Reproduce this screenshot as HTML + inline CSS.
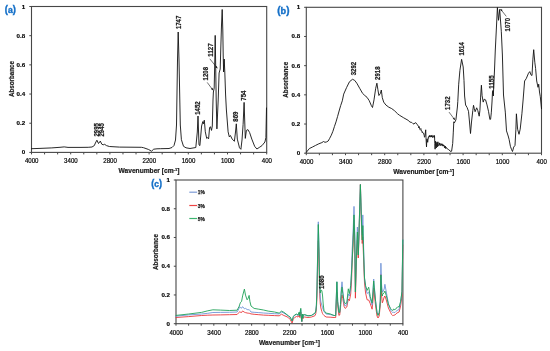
<!DOCTYPE html>
<html><head><meta charset="utf-8"><title>FTIR spectra</title>
<style>
html,body{margin:0;padding:0;background:#fff;}
body{width:550px;height:351px;overflow:hidden;}
svg{display:block;font-family:"Liberation Sans", "DejaVu Sans", sans-serif;}
</style></head><body>
<svg width="550" height="351" viewBox="0 0 550 351">
<rect width="550" height="351" fill="#fff"/>
<rect x="31.5" y="6.5" width="235.2" height="145.9" fill="none" stroke="#474747" stroke-width="1.1"/>
<line x1="29.3" y1="152.4" x2="31.5" y2="152.4" stroke="#474747" stroke-width="1"/>
<text x="25.2" y="154.4" font-size="6.2" text-anchor="end" font-weight="bold" fill="#000" stroke="#000" stroke-width="0.15">0</text>
<line x1="29.3" y1="123.22" x2="31.5" y2="123.22" stroke="#474747" stroke-width="1"/>
<text x="25.2" y="125.22" font-size="6.2" text-anchor="end" font-weight="bold" fill="#000" stroke="#000" stroke-width="0.15">0.2</text>
<line x1="29.3" y1="94.04" x2="31.5" y2="94.04" stroke="#474747" stroke-width="1"/>
<text x="25.2" y="96.04" font-size="6.2" text-anchor="end" font-weight="bold" fill="#000" stroke="#000" stroke-width="0.15">0.4</text>
<line x1="29.3" y1="64.86" x2="31.5" y2="64.86" stroke="#474747" stroke-width="1"/>
<text x="25.2" y="66.86" font-size="6.2" text-anchor="end" font-weight="bold" fill="#000" stroke="#000" stroke-width="0.15">0.6</text>
<line x1="29.3" y1="35.68" x2="31.5" y2="35.68" stroke="#474747" stroke-width="1"/>
<text x="25.2" y="37.68" font-size="6.2" text-anchor="end" font-weight="bold" fill="#000" stroke="#000" stroke-width="0.15">0.8</text>
<line x1="29.3" y1="6.5" x2="31.5" y2="6.5" stroke="#474747" stroke-width="1"/>
<text x="25.2" y="8.5" font-size="6.2" text-anchor="end" font-weight="bold" fill="#000" stroke="#000" stroke-width="0.15">1</text>
<line x1="31.5" y1="152.4" x2="31.5" y2="154.4" stroke="#474747" stroke-width="1"/>
<text x="31.7" y="163.2" font-size="6.4" text-anchor="middle" font-weight="normal" fill="#000" textLength="13.6" lengthAdjust="spacingAndGlyphs" stroke="#000" stroke-width="0.18">4000</text>
<line x1="44.57" y1="152.4" x2="44.57" y2="154.4" stroke="#474747" stroke-width="1"/>
<line x1="57.63" y1="152.4" x2="57.63" y2="154.4" stroke="#474747" stroke-width="1"/>
<line x1="70.7" y1="152.4" x2="70.7" y2="154.4" stroke="#474747" stroke-width="1"/>
<text x="70.9" y="163.2" font-size="6.4" text-anchor="middle" font-weight="normal" fill="#000" textLength="13.6" lengthAdjust="spacingAndGlyphs" stroke="#000" stroke-width="0.18">3400</text>
<line x1="83.77" y1="152.4" x2="83.77" y2="154.4" stroke="#474747" stroke-width="1"/>
<line x1="96.83" y1="152.4" x2="96.83" y2="154.4" stroke="#474747" stroke-width="1"/>
<line x1="109.9" y1="152.4" x2="109.9" y2="154.4" stroke="#474747" stroke-width="1"/>
<text x="110.1" y="163.2" font-size="6.4" text-anchor="middle" font-weight="normal" fill="#000" textLength="13.6" lengthAdjust="spacingAndGlyphs" stroke="#000" stroke-width="0.18">2800</text>
<line x1="122.97" y1="152.4" x2="122.97" y2="154.4" stroke="#474747" stroke-width="1"/>
<line x1="136.03" y1="152.4" x2="136.03" y2="154.4" stroke="#474747" stroke-width="1"/>
<line x1="149.1" y1="152.4" x2="149.1" y2="154.4" stroke="#474747" stroke-width="1"/>
<text x="149.3" y="163.2" font-size="6.4" text-anchor="middle" font-weight="normal" fill="#000" textLength="13.6" lengthAdjust="spacingAndGlyphs" stroke="#000" stroke-width="0.18">2200</text>
<line x1="162.17" y1="152.4" x2="162.17" y2="154.4" stroke="#474747" stroke-width="1"/>
<line x1="175.23" y1="152.4" x2="175.23" y2="154.4" stroke="#474747" stroke-width="1"/>
<line x1="188.3" y1="152.4" x2="188.3" y2="154.4" stroke="#474747" stroke-width="1"/>
<text x="188.5" y="163.2" font-size="6.4" text-anchor="middle" font-weight="normal" fill="#000" textLength="13.6" lengthAdjust="spacingAndGlyphs" stroke="#000" stroke-width="0.18">1600</text>
<line x1="201.37" y1="152.4" x2="201.37" y2="154.4" stroke="#474747" stroke-width="1"/>
<line x1="214.43" y1="152.4" x2="214.43" y2="154.4" stroke="#474747" stroke-width="1"/>
<line x1="227.5" y1="152.4" x2="227.5" y2="154.4" stroke="#474747" stroke-width="1"/>
<text x="227.7" y="163.2" font-size="6.4" text-anchor="middle" font-weight="normal" fill="#000" textLength="13.6" lengthAdjust="spacingAndGlyphs" stroke="#000" stroke-width="0.18">1000</text>
<line x1="240.57" y1="152.4" x2="240.57" y2="154.4" stroke="#474747" stroke-width="1"/>
<line x1="253.63" y1="152.4" x2="253.63" y2="154.4" stroke="#474747" stroke-width="1"/>
<line x1="266.7" y1="152.4" x2="266.7" y2="154.4" stroke="#474747" stroke-width="1"/>
<text x="266.9" y="163.2" font-size="6.4" text-anchor="middle" font-weight="normal" fill="#000" textLength="10.2" lengthAdjust="spacingAndGlyphs" stroke="#000" stroke-width="0.18">400</text>
<text x="149" y="173.2" font-size="7" text-anchor="middle" font-weight="bold" fill="#1a1a1a" stroke="#1a1a1a" stroke-width="0.2" textLength="61" lengthAdjust="spacingAndGlyphs">Wavenumber [cm<tspan dy="-2.3" font-size="4.4">-1</tspan><tspan dy="2.3">]</tspan></text>
<text transform="translate(11.3 79) rotate(-90)" x="0" y="0" font-size="6.6" text-anchor="middle" font-weight="bold" fill="#1a1a1a" textLength="36" lengthAdjust="spacingAndGlyphs" dy="2.3" stroke="#1a1a1a" stroke-width="0.2">Absorbance</text>
<text x="4.8" y="13.2" font-size="10.4" font-weight="bold" fill="#1570c8" stroke="#1570c8" stroke-width="0.4" textLength="11.1" lengthAdjust="spacingAndGlyphs">(<tspan font-size="9.6">a</tspan>)</text>
<polyline points="31.5,148.7 40,148.4 51.8,147.9 60,147.3 64.2,146.9 68,147.4 80,147.4 88.2,147.3 92,147 94.3,145.6 95.4,143 96.9,140.2 98.5,143.5 100.3,141.1 101.8,144.2 103.2,144.8 104.6,144.3 106.5,145.6 109.4,146.5 119.5,147.1 130,147.2 141.4,147.3 143.5,147.7 148.6,149.5 151.5,151.2 153.7,149.2 157,148.8 160.3,148.7 169,148.5 172,147.5 174,145.5 175.5,140 176.5,125 177.5,60 178.2,32 179,60 180.3,125 181.4,139.7 183.5,146.3 186,147.8 190,148.5 195.8,147.5 197.3,132 198,116 199,144.9 199.9,145.6 201.6,126 202.8,121.6 203.4,123.8 204.3,120.2 205.3,131.8 206.7,138.4 207.7,137.6 208.6,138.8 209.6,127.5 210.4,126.7 211.5,130.4 212.3,126 213,100 213.4,92 214.2,88 214.8,60 215.2,35.4 215.6,60 216.2,100 216.9,128.9 218.2,100 219.1,73 220.2,69 220.9,45 221.5,25 222.2,9.5 222.8,30 223.2,55 223.6,72 224.2,59 224.8,72 225.6,95 226.4,110 228.1,131.8 229.3,136.9 230.4,135.5 232.2,139.1 234.4,141.3 235.5,132 236.3,123.8 237.3,139.1 239.5,147.8 240.9,149.3 242,140 243.1,124.5 244.1,102.4 245.3,138.4 246.4,130.4 247.9,129.6 249.6,132.5 251.8,139.1 254.7,146.4 256.9,149 259.8,147.1 262,145.6 264.9,142 265.9,137.6 266.5,108" fill="none" stroke="#111" stroke-width="0.9" stroke-linejoin="round" stroke-linecap="round"/>
<text transform="translate(96.5 129.8) rotate(-90)" x="0" y="0" font-size="6.7" text-anchor="middle" font-weight="bold" fill="#1a1a1a" textLength="13.4" lengthAdjust="spacingAndGlyphs" dy="2.4" stroke="#1a1a1a" stroke-width="0.22">2995</text>
<text transform="translate(101.4 129.8) rotate(-90)" x="0" y="0" font-size="6.7" text-anchor="middle" font-weight="bold" fill="#1a1a1a" textLength="13.4" lengthAdjust="spacingAndGlyphs" dy="2.4" stroke="#1a1a1a" stroke-width="0.22">2945</text>
<text transform="translate(178.8 22.4) rotate(-90)" x="0" y="0" font-size="6.7" text-anchor="middle" font-weight="bold" fill="#1a1a1a" textLength="13.4" lengthAdjust="spacingAndGlyphs" dy="2.4" stroke="#1a1a1a" stroke-width="0.22">1747</text>
<text transform="translate(211 50) rotate(-90)" x="0" y="0" font-size="6.7" text-anchor="middle" font-weight="bold" fill="#1a1a1a" textLength="13.4" lengthAdjust="spacingAndGlyphs" dy="2.4" stroke="#1a1a1a" stroke-width="0.22">1127</text>
<text transform="translate(205.9 73.7) rotate(-90)" x="0" y="0" font-size="6.7" text-anchor="middle" font-weight="bold" fill="#1a1a1a" textLength="13.4" lengthAdjust="spacingAndGlyphs" dy="2.4" stroke="#1a1a1a" stroke-width="0.22">1208</text>
<text transform="translate(197.9 108.1) rotate(-90)" x="0" y="0" font-size="6.7" text-anchor="middle" font-weight="bold" fill="#1a1a1a" textLength="13.4" lengthAdjust="spacingAndGlyphs" dy="2.4" stroke="#1a1a1a" stroke-width="0.22">1452</text>
<text transform="translate(235.8 116.6) rotate(-90)" x="0" y="0" font-size="6.7" text-anchor="middle" font-weight="bold" fill="#1a1a1a" textLength="10.2" lengthAdjust="spacingAndGlyphs" dy="2.4" stroke="#1a1a1a" stroke-width="0.22">869</text>
<text transform="translate(244 95.6) rotate(-90)" x="0" y="0" font-size="6.7" text-anchor="middle" font-weight="bold" fill="#1a1a1a" textLength="10.2" lengthAdjust="spacingAndGlyphs" dy="2.4" stroke="#1a1a1a" stroke-width="0.22">754</text>
<line x1="209.8" y1="58.8" x2="217.4" y2="68.3" stroke="#111" stroke-width="0.6"/>
<polygon points="217.4,68.3 215.24,67.21 216.81,65.96" fill="#111"/>
<line x1="207.2" y1="82.4" x2="213" y2="90.2" stroke="#111" stroke-width="0.6"/>
<polygon points="213,90.2 210.88,89.03 212.49,87.84" fill="#111"/>
<rect x="306.3" y="7.3" width="235.2" height="145.9" fill="none" stroke="#474747" stroke-width="1.1"/>
<line x1="304.1" y1="153.2" x2="306.3" y2="153.2" stroke="#474747" stroke-width="1"/>
<text x="300.2" y="155.2" font-size="6.2" text-anchor="end" font-weight="bold" fill="#000" stroke="#000" stroke-width="0.15">0</text>
<line x1="304.1" y1="124.02" x2="306.3" y2="124.02" stroke="#474747" stroke-width="1"/>
<text x="300.2" y="126.02" font-size="6.2" text-anchor="end" font-weight="bold" fill="#000" stroke="#000" stroke-width="0.15">0.2</text>
<line x1="304.1" y1="94.84" x2="306.3" y2="94.84" stroke="#474747" stroke-width="1"/>
<text x="300.2" y="96.84" font-size="6.2" text-anchor="end" font-weight="bold" fill="#000" stroke="#000" stroke-width="0.15">0.4</text>
<line x1="304.1" y1="65.66" x2="306.3" y2="65.66" stroke="#474747" stroke-width="1"/>
<text x="300.2" y="67.66" font-size="6.2" text-anchor="end" font-weight="bold" fill="#000" stroke="#000" stroke-width="0.15">0.6</text>
<line x1="304.1" y1="36.48" x2="306.3" y2="36.48" stroke="#474747" stroke-width="1"/>
<text x="300.2" y="38.48" font-size="6.2" text-anchor="end" font-weight="bold" fill="#000" stroke="#000" stroke-width="0.15">0.8</text>
<line x1="304.1" y1="7.3" x2="306.3" y2="7.3" stroke="#474747" stroke-width="1"/>
<text x="300.2" y="9.3" font-size="6.2" text-anchor="end" font-weight="bold" fill="#000" stroke="#000" stroke-width="0.15">1</text>
<line x1="306.3" y1="153.2" x2="306.3" y2="155.2" stroke="#474747" stroke-width="1"/>
<text x="306.5" y="163.6" font-size="6.4" text-anchor="middle" font-weight="normal" fill="#000" textLength="13.6" lengthAdjust="spacingAndGlyphs" stroke="#000" stroke-width="0.18">4000</text>
<line x1="319.37" y1="153.2" x2="319.37" y2="155.2" stroke="#474747" stroke-width="1"/>
<line x1="332.43" y1="153.2" x2="332.43" y2="155.2" stroke="#474747" stroke-width="1"/>
<line x1="345.5" y1="153.2" x2="345.5" y2="155.2" stroke="#474747" stroke-width="1"/>
<text x="345.7" y="163.6" font-size="6.4" text-anchor="middle" font-weight="normal" fill="#000" textLength="13.6" lengthAdjust="spacingAndGlyphs" stroke="#000" stroke-width="0.18">3400</text>
<line x1="358.57" y1="153.2" x2="358.57" y2="155.2" stroke="#474747" stroke-width="1"/>
<line x1="371.63" y1="153.2" x2="371.63" y2="155.2" stroke="#474747" stroke-width="1"/>
<line x1="384.7" y1="153.2" x2="384.7" y2="155.2" stroke="#474747" stroke-width="1"/>
<text x="384.9" y="163.6" font-size="6.4" text-anchor="middle" font-weight="normal" fill="#000" textLength="13.6" lengthAdjust="spacingAndGlyphs" stroke="#000" stroke-width="0.18">2800</text>
<line x1="397.77" y1="153.2" x2="397.77" y2="155.2" stroke="#474747" stroke-width="1"/>
<line x1="410.83" y1="153.2" x2="410.83" y2="155.2" stroke="#474747" stroke-width="1"/>
<line x1="423.9" y1="153.2" x2="423.9" y2="155.2" stroke="#474747" stroke-width="1"/>
<text x="424.1" y="163.6" font-size="6.4" text-anchor="middle" font-weight="normal" fill="#000" textLength="13.6" lengthAdjust="spacingAndGlyphs" stroke="#000" stroke-width="0.18">2200</text>
<line x1="436.97" y1="153.2" x2="436.97" y2="155.2" stroke="#474747" stroke-width="1"/>
<line x1="450.03" y1="153.2" x2="450.03" y2="155.2" stroke="#474747" stroke-width="1"/>
<line x1="463.1" y1="153.2" x2="463.1" y2="155.2" stroke="#474747" stroke-width="1"/>
<text x="463.3" y="163.6" font-size="6.4" text-anchor="middle" font-weight="normal" fill="#000" textLength="13.6" lengthAdjust="spacingAndGlyphs" stroke="#000" stroke-width="0.18">1600</text>
<line x1="476.17" y1="153.2" x2="476.17" y2="155.2" stroke="#474747" stroke-width="1"/>
<line x1="489.23" y1="153.2" x2="489.23" y2="155.2" stroke="#474747" stroke-width="1"/>
<line x1="502.3" y1="153.2" x2="502.3" y2="155.2" stroke="#474747" stroke-width="1"/>
<text x="502.5" y="163.6" font-size="6.4" text-anchor="middle" font-weight="normal" fill="#000" textLength="13.6" lengthAdjust="spacingAndGlyphs" stroke="#000" stroke-width="0.18">1000</text>
<line x1="515.37" y1="153.2" x2="515.37" y2="155.2" stroke="#474747" stroke-width="1"/>
<line x1="528.43" y1="153.2" x2="528.43" y2="155.2" stroke="#474747" stroke-width="1"/>
<line x1="541.5" y1="153.2" x2="541.5" y2="155.2" stroke="#474747" stroke-width="1"/>
<text x="541.7" y="163.6" font-size="6.4" text-anchor="middle" font-weight="normal" fill="#000" textLength="10.2" lengthAdjust="spacingAndGlyphs" stroke="#000" stroke-width="0.18">400</text>
<text x="423.8" y="173.8" font-size="7" text-anchor="middle" font-weight="bold" fill="#1a1a1a" stroke="#1a1a1a" stroke-width="0.2" textLength="61" lengthAdjust="spacingAndGlyphs">Wavenumber [cm<tspan dy="-2.3" font-size="4.4">-1</tspan><tspan dy="2.3">]</tspan></text>
<text transform="translate(286.1 79.8) rotate(-90)" x="0" y="0" font-size="6.6" text-anchor="middle" font-weight="bold" fill="#1a1a1a" textLength="36" lengthAdjust="spacingAndGlyphs" dy="2.3" stroke="#1a1a1a" stroke-width="0.2">Absorbance</text>
<text x="277.3" y="14.2" font-size="10.4" font-weight="bold" fill="#1570c8" stroke="#1570c8" stroke-width="0.4" textLength="12.2" lengthAdjust="spacingAndGlyphs">(<tspan font-size="9.6">b</tspan>)</text>
<polyline points="306.4,152.2 309.4,148.5 312.5,147 315.6,145.4 318.8,143.8 321.9,142.6 323.5,141.5 325,142.3 326.6,141.9 328.2,141 329.7,138.3 331.3,135.2 332.9,131.3 334.4,126.6 336,121.9 337.6,116.4 339.1,111 340.7,105.5 342.3,100.8 343.7,94.1 346.6,87.5 349.5,81.7 352.5,79.3 354.6,80.3 356.8,83.2 359.7,88.3 362.6,93.4 364.8,95.5 367,97.3 369.2,100.6 371.4,105.7 372.5,107.5 374,99.9 375.7,88.3 376.9,83.2 377.9,89.7 378.9,95.5 380.4,93.4 381.3,90 382.3,97.7 383.7,102.1 385.9,105 388.8,107.2 391.7,108.6 394.6,110.8 397.5,113.7 399.4,115.2 403.7,117.8 408.1,120.3 410,122.1 411.7,122.4 412.8,123.5 414,124.1 415.1,122.7 416.3,123.2 417.4,124.7 418.5,126.4 418.83,127.96 419.17,126.54 419.5,127.5 419.9,129.55 420.3,129.2 420.9,128.6 421.2,130.9 421.5,130.8 422,131 422.3,133 422.6,132.6 423.1,133.2 423.6,133.1 424.2,135.5 424.5,137.25 424.8,136.6 425.3,133 425.7,129.8 426,137.8 426.5,146.9 426.8,140 427.1,138.9 427.7,142.3 428.2,137.8 428.5,138.2 428.8,136.2 429.4,135.5 429.7,137.06 430,135.64 430.3,136.6 430.7,137.15 431.1,135.3 431.47,136.93 431.83,135.57 432.2,136.6 432.57,137.5 432.93,135.4 433.3,135.7 433.9,137.2 434.2,137.55 434.5,135.5 434.8,143.55 435.1,149.2 435.6,141.2 436.2,148 436.5,146.35 436.8,142.3 437.3,146.9 437.9,141.8 438.2,145 438.5,145.8 438.95,145.55 439.4,142.9 439.8,145.25 440.2,145.2 440.5,145.55 440.8,143.5 441.3,144 441.7,145.4 442.1,143.8 442.5,144.6 442.84,146.14 443.18,144.68 443.52,145.9 443.86,145 444.2,146.3 444.51,147.74 444.83,146.19 445.14,147.3 445.46,146.31 445.77,148.62 446.09,147.37 446.4,148 448.7,149.7 451,151.7 451.6,151.2 452.7,143.5 453.3,132.1 453.8,121.8 454.4,122.9 455.9,119.9 457.4,107 457.8,101.4 458.7,84.2 459.9,70.5 461.6,59.3 463.2,67 464,80.5 464.6,96 465.6,105 467.1,107.5 468.5,111.3 469.5,122 470.5,133.5 471.5,122 472.8,110.6 473.5,105.3 474.3,108.5 475.1,111.7 476.7,107.8 477.8,110.6 479.2,116.2 479.9,110.6 480.6,97.1 481.4,85.2 482.1,95.7 483.2,102.1 484.2,99.2 485.6,99.9 487,104.9 488.5,111.3 489.9,119.5 490.6,119.2 491.3,112.8 492,102 492.5,92 492.9,90.5 493.3,96 493.8,85 494.5,70 495.3,50 496.3,30 497.4,7.5 498.5,20.3 499.7,9.4 501.3,31.3 502.4,55 503.5,95 505.3,112.1 506.5,130.9 508.2,136 509.1,139.4 510.4,146.3 511.6,149.7 512.5,151.5 513.7,147.1 515,145.4 515.9,129.2 516.4,113.8 517.6,129.2 519,134.3 520.2,129.2 521.9,113.8 523.1,100 524.6,81 526.2,78.7 528.5,73.2 529.8,71.6 530.9,74.8 532,75.5 532.9,59.1 533.7,49.7 534.8,62.2 535.6,68.5 536.7,81 538,87.3 538.7,84.2 539.5,92 540.3,96.7 541.5,108.7" fill="none" stroke="#111" stroke-width="0.9" stroke-linejoin="round" stroke-linecap="round"/>
<text transform="translate(353.7 68.6) rotate(-90)" x="0" y="0" font-size="6.7" text-anchor="middle" font-weight="bold" fill="#1a1a1a" textLength="13.4" lengthAdjust="spacingAndGlyphs" dy="2.4" stroke="#1a1a1a" stroke-width="0.22">3292</text>
<text transform="translate(377.4 73.2) rotate(-90)" x="0" y="0" font-size="6.7" text-anchor="middle" font-weight="bold" fill="#1a1a1a" textLength="13.4" lengthAdjust="spacingAndGlyphs" dy="2.4" stroke="#1a1a1a" stroke-width="0.22">2918</text>
<text transform="translate(447.8 103.2) rotate(-90)" x="0" y="0" font-size="6.7" text-anchor="middle" font-weight="bold" fill="#1a1a1a" textLength="13.4" lengthAdjust="spacingAndGlyphs" dy="2.4" stroke="#1a1a1a" stroke-width="0.22">1732</text>
<text transform="translate(461.8 48.9) rotate(-90)" x="0" y="0" font-size="6.7" text-anchor="middle" font-weight="bold" fill="#1a1a1a" textLength="13.4" lengthAdjust="spacingAndGlyphs" dy="2.4" stroke="#1a1a1a" stroke-width="0.22">1614</text>
<text transform="translate(491.6 82) rotate(-90)" x="0" y="0" font-size="6.7" text-anchor="middle" font-weight="bold" fill="#1a1a1a" textLength="13.4" lengthAdjust="spacingAndGlyphs" dy="2.4" stroke="#1a1a1a" stroke-width="0.22">1155</text>
<text transform="translate(508 24.7) rotate(-90)" x="0" y="0" font-size="6.7" text-anchor="middle" font-weight="bold" fill="#1a1a1a" textLength="13.4" lengthAdjust="spacingAndGlyphs" dy="2.4" stroke="#1a1a1a" stroke-width="0.22">1070</text>
<line x1="449" y1="112.1" x2="454.9" y2="119.9" stroke="#111" stroke-width="0.6"/>
<polygon points="454.9,119.9 452.78,118.75 454.37,117.54" fill="#111"/>
<line x1="506.3" y1="16.4" x2="500.5" y2="9" stroke="#111" stroke-width="0.6"/>
<polygon points="500.5,9 502.64,10.11 501.07,11.35" fill="#111"/>
<rect x="176" y="180" width="226.9" height="143.7" fill="none" stroke="#474747" stroke-width="1.1"/>
<line x1="173.8" y1="323.7" x2="176" y2="323.7" stroke="#474747" stroke-width="1"/>
<text x="170" y="325.7" font-size="6.2" text-anchor="end" font-weight="bold" fill="#000" stroke="#000" stroke-width="0.15">0</text>
<line x1="173.8" y1="294.96" x2="176" y2="294.96" stroke="#474747" stroke-width="1"/>
<text x="170" y="296.96" font-size="6.2" text-anchor="end" font-weight="bold" fill="#000" stroke="#000" stroke-width="0.15">0.2</text>
<line x1="173.8" y1="266.22" x2="176" y2="266.22" stroke="#474747" stroke-width="1"/>
<text x="170" y="268.22" font-size="6.2" text-anchor="end" font-weight="bold" fill="#000" stroke="#000" stroke-width="0.15">0.4</text>
<line x1="173.8" y1="237.48" x2="176" y2="237.48" stroke="#474747" stroke-width="1"/>
<text x="170" y="239.48" font-size="6.2" text-anchor="end" font-weight="bold" fill="#000" stroke="#000" stroke-width="0.15">0.6</text>
<line x1="173.8" y1="208.74" x2="176" y2="208.74" stroke="#474747" stroke-width="1"/>
<text x="170" y="210.74" font-size="6.2" text-anchor="end" font-weight="bold" fill="#000" stroke="#000" stroke-width="0.15">0.8</text>
<line x1="173.8" y1="180" x2="176" y2="180" stroke="#474747" stroke-width="1"/>
<text x="170" y="182" font-size="6.2" text-anchor="end" font-weight="bold" fill="#000" stroke="#000" stroke-width="0.15">1</text>
<line x1="176" y1="323.7" x2="176" y2="325.7" stroke="#474747" stroke-width="1"/>
<text x="176.2" y="334.6" font-size="6.4" text-anchor="middle" font-weight="normal" fill="#000" textLength="13.6" lengthAdjust="spacingAndGlyphs" stroke="#000" stroke-width="0.18">4000</text>
<line x1="188.61" y1="323.7" x2="188.61" y2="325.7" stroke="#474747" stroke-width="1"/>
<line x1="201.21" y1="323.7" x2="201.21" y2="325.7" stroke="#474747" stroke-width="1"/>
<line x1="213.82" y1="323.7" x2="213.82" y2="325.7" stroke="#474747" stroke-width="1"/>
<text x="214.02" y="334.6" font-size="6.4" text-anchor="middle" font-weight="normal" fill="#000" textLength="13.6" lengthAdjust="spacingAndGlyphs" stroke="#000" stroke-width="0.18">3400</text>
<line x1="226.42" y1="323.7" x2="226.42" y2="325.7" stroke="#474747" stroke-width="1"/>
<line x1="239.03" y1="323.7" x2="239.03" y2="325.7" stroke="#474747" stroke-width="1"/>
<line x1="251.63" y1="323.7" x2="251.63" y2="325.7" stroke="#474747" stroke-width="1"/>
<text x="251.83" y="334.6" font-size="6.4" text-anchor="middle" font-weight="normal" fill="#000" textLength="13.6" lengthAdjust="spacingAndGlyphs" stroke="#000" stroke-width="0.18">2800</text>
<line x1="264.24" y1="323.7" x2="264.24" y2="325.7" stroke="#474747" stroke-width="1"/>
<line x1="276.84" y1="323.7" x2="276.84" y2="325.7" stroke="#474747" stroke-width="1"/>
<line x1="289.45" y1="323.7" x2="289.45" y2="325.7" stroke="#474747" stroke-width="1"/>
<text x="289.65" y="334.6" font-size="6.4" text-anchor="middle" font-weight="normal" fill="#000" textLength="13.6" lengthAdjust="spacingAndGlyphs" stroke="#000" stroke-width="0.18">2200</text>
<line x1="302.06" y1="323.7" x2="302.06" y2="325.7" stroke="#474747" stroke-width="1"/>
<line x1="314.66" y1="323.7" x2="314.66" y2="325.7" stroke="#474747" stroke-width="1"/>
<line x1="327.27" y1="323.7" x2="327.27" y2="325.7" stroke="#474747" stroke-width="1"/>
<text x="327.47" y="334.6" font-size="6.4" text-anchor="middle" font-weight="normal" fill="#000" textLength="13.6" lengthAdjust="spacingAndGlyphs" stroke="#000" stroke-width="0.18">1600</text>
<line x1="339.87" y1="323.7" x2="339.87" y2="325.7" stroke="#474747" stroke-width="1"/>
<line x1="352.48" y1="323.7" x2="352.48" y2="325.7" stroke="#474747" stroke-width="1"/>
<line x1="365.08" y1="323.7" x2="365.08" y2="325.7" stroke="#474747" stroke-width="1"/>
<text x="365.28" y="334.6" font-size="6.4" text-anchor="middle" font-weight="normal" fill="#000" textLength="13.6" lengthAdjust="spacingAndGlyphs" stroke="#000" stroke-width="0.18">1000</text>
<line x1="377.69" y1="323.7" x2="377.69" y2="325.7" stroke="#474747" stroke-width="1"/>
<line x1="390.29" y1="323.7" x2="390.29" y2="325.7" stroke="#474747" stroke-width="1"/>
<line x1="402.9" y1="323.7" x2="402.9" y2="325.7" stroke="#474747" stroke-width="1"/>
<text x="403.1" y="334.6" font-size="6.4" text-anchor="middle" font-weight="normal" fill="#000" textLength="10.2" lengthAdjust="spacingAndGlyphs" stroke="#000" stroke-width="0.18">400</text>
<text x="289.5" y="345.4" font-size="7" text-anchor="middle" font-weight="bold" fill="#1a1a1a" stroke="#1a1a1a" stroke-width="0.2" textLength="61" lengthAdjust="spacingAndGlyphs">Wavenumber [cm<tspan dy="-2.3" font-size="4.4">-1</tspan><tspan dy="2.3">]</tspan></text>
<text transform="translate(156 252) rotate(-90)" x="0" y="0" font-size="6.6" text-anchor="middle" font-weight="bold" fill="#1a1a1a" textLength="36" lengthAdjust="spacingAndGlyphs" dy="2.3" stroke="#1a1a1a" stroke-width="0.2">Absorbance</text>
<text x="151.3" y="187.2" font-size="10.4" font-weight="bold" fill="#1570c8" stroke="#1570c8" stroke-width="0.4" textLength="10.8" lengthAdjust="spacingAndGlyphs">(<tspan font-size="9.6">c</tspan>)</text>
<polyline points="176.1,317.5 188.7,316.6 201.5,315.5 207.8,315.2 212.9,315 220.5,314.9 229.5,314.7 237.1,314.5 239,312.5 239.6,311.7 240.3,312.2 241.6,312.5 242.4,311.1 242.8,311.1 244.4,312.2 245.5,312.6 247.1,313 248.2,313.2 249.1,313.2 249.9,313.5 251,313.9 254.1,314.3 258.8,314.7 263.5,315.1 268.2,315.3 274.5,315.6 279.2,315.8 281.5,314.2 283.9,315.5 287,316.8 288.6,317.8 290.2,319.5 292.1,323 293.3,319 294.7,317.5 296.5,316.5 298,317 299.2,315 299.8,317.5 300.4,313 300.8,312 301.2,317 301.8,321.5 302.3,316 302.8,319 303.5,317 304.6,317 308,317.5 311.5,317 314.2,316 315.1,315.5 315.8,313.5 316.4,309 317,296 317.6,267 318.3,240.6 319,262 319.6,292 320.3,304 320.9,308 321.8,311.5 322.5,313.5 323.2,314.5 324,315.5 326.1,317 330.1,317.2 334.1,317.5 335.7,317.5 336.2,305 336.9,292 337.7,305 338.9,315.5 339.7,315 340.5,308 341.3,298 342,295 342.8,298.5 344.1,306.5 345.2,308.4 346.8,307 348.3,299 349.4,300.7 350.7,294 351.6,280 352.1,262 353.1,245 354,220 354.8,250 355.4,298.2 356.3,265 357.4,240 358.3,258 359.2,230 360.4,184.3 361.5,228 362.2,243.5 362.8,237 363.7,262 364.5,283 365.6,293 367.1,299.8 368.7,300 370.3,303.7 372.1,309.2 373,300 373.7,288 374.2,293 375.6,306 377,316 378,318 379.2,316 380.3,305 380.9,274.2 381.6,296 382.3,302.8 382.7,302 384.2,297 384.9,296 386.3,300 388.4,308 390.6,312.5 391.6,314.5 392.7,315.6 393.6,315.4 394.9,315 395.8,314 397,313 398,312.5 399.1,312 400.6,306 402,296 402.8,245" fill="none" stroke="#e8373a" stroke-width="0.9" stroke-linejoin="round" stroke-linecap="round"/>
<polyline points="176.1,316.2 188.7,314.9 201.5,314 207.8,313.3 212.9,312.5 220.5,312.4 229.5,312.3 237.1,312 239,308.5 239.6,306.6 240.3,307.5 241.6,308.2 242.4,306.8 242.8,306.8 244.4,308.8 245.5,308.4 247.1,309.5 248.2,309.8 249.1,309.5 249.9,310.5 251,312 254.1,312.3 258.8,312.6 263.5,313 268.2,313.3 274.5,313.7 279.2,313.9 281.5,312 283.9,313.1 287,315 288.6,316.2 290.2,317.5 292.1,321 293.3,317 294.7,315.2 296.5,314.5 298,315.5 299.2,313 299.8,316 300.4,311 300.8,309.5 301.2,316 301.8,321.5 302.3,314.5 302.8,318 303.5,315 304.6,315 308,315.8 311.5,315.4 314.2,313.8 315.1,313.2 315.8,311 316.4,305 317,286 317.6,255 318.3,221.8 319,248 319.6,282 320.3,298 320.9,302 321.8,305 322.5,307.5 323.2,309.5 324,311.5 326.1,314 330.1,314.5 334.1,315.5 335.7,315.5 336.2,300 336.9,281.8 337.7,301.3 338.9,312.3 339.7,312.5 340.5,304.5 341.3,288.8 342,281.8 342.8,291 344.1,303.5 345.2,306 346.8,304.5 348.3,294 349.4,296 350.7,288 351.6,268 352.1,251.4 353.1,232 354,206.4 354.8,235 355.4,292 356.3,255 357.4,227 358.3,255 359.2,225 360.4,184.6 361.5,222 362.2,235 362.8,214.9 363.7,250 364.5,278 365.6,287 367.1,293.5 368.7,292 370.3,299 372.1,305 373,290 373.7,279 374.2,285 375.6,301 377,312 378,314.5 379.2,312.5 380.3,300 380.9,263.2 381.6,285 382.3,292 382.7,292 384.2,289 384.9,284.3 386.3,292 388.4,303.5 390.6,310 391.6,311.5 392.7,312.5 393.6,312.3 394.9,312.5 395.8,311.5 397,310.5 398,310 399.1,309.5 400.6,302 402,292 402.8,240" fill="none" stroke="#6f93d6" stroke-width="0.9" stroke-linejoin="round" stroke-linecap="round"/>
<polyline points="176.1,315.4 188.7,314 201.5,312.4 207.8,310.8 212.9,309.8 220.5,310.1 229.5,310.5 237.1,310.2 239,306.6 239.6,305 240.3,302.8 241.6,301.3 242.4,297 242.8,295.1 244.4,289.1 245.5,295.1 247.1,299.8 248.2,298.2 249.1,295.4 249.9,301.3 251,306 254.1,308.4 258.8,309.2 263.5,310 268.2,311.1 274.5,312 279.2,313.1 281.5,311.1 283.9,312.3 287,314.7 288.6,316 290.2,317 292.1,321 293.3,316.5 294.7,314.9 296.5,314 298,315 299.2,312 299.8,316 300.4,310 300.8,308.3 301.2,316 301.8,321.5 302.3,314 302.8,318 303.5,314.5 304.6,314.5 308,315.8 311.5,315.4 314.2,313.6 315.1,313 315.8,311 316.4,305 317,288 317.6,258 318.3,224.5 319,250 319.6,284 320.3,293 320.9,290 321.8,290.5 322.5,295 323.2,304 324,310.5 326.1,313.1 330.1,313.9 334.1,315.5 335.7,315.5 336.2,300 336.9,281.8 337.7,301.3 338.9,312.3 339.7,312.5 340.5,304.5 341.3,292 342,287.2 342.8,293.5 344.1,301.3 345.2,303.7 346.8,302.9 348.3,288.8 349.4,293.5 350.7,285.7 351.6,272 352.1,263 353.1,240 354,214.9 354.8,240 355.4,292 356.3,260 357.4,232 358.3,255 359.2,225 360.4,184.6 361.5,222 362.2,240 362.8,225.6 363.7,255 364.5,278 365.6,285.7 367.1,290.4 368.7,287.2 370.3,296.6 372.1,303 373,292 373.7,281 374.2,287.1 375.6,301.4 377,312.8 378,315.5 379.2,313 380.3,301.4 380.9,275 381.6,290 382.3,296 382.7,294.2 384.2,292.8 384.9,291 386.3,295.7 388.4,304.2 390.6,308.5 391.6,309.5 392.7,310.6 393.6,309 394.9,309.9 395.8,308.5 397,307.8 398,306.5 399.1,307.1 400.6,301.4 402,291.4 402.8,240" fill="none" stroke="#1fa257" stroke-width="0.9" stroke-linejoin="round" stroke-linecap="round"/>
<text transform="translate(321.9 282.2) rotate(-90)" x="0" y="0" font-size="6.7" text-anchor="middle" font-weight="bold" fill="#1a1a1a" textLength="13.4" lengthAdjust="spacingAndGlyphs" dy="2.4" stroke="#1a1a1a" stroke-width="0.22">1686</text>
<line x1="189.3" y1="192.2" x2="197.1" y2="192.2" stroke="#7d9bd6" stroke-width="1.2"/>
<text x="197.8" y="194.2" font-size="5.8" text-anchor="start" font-weight="bold" fill="#1a1a1a" textLength="7" lengthAdjust="spacingAndGlyphs" stroke="#1a1a1a" stroke-width="0.25">1%</text>
<line x1="189.3" y1="205.5" x2="197.1" y2="205.5" stroke="#ee4444" stroke-width="1.2"/>
<text x="197.8" y="207.5" font-size="5.8" text-anchor="start" font-weight="bold" fill="#1a1a1a" textLength="7" lengthAdjust="spacingAndGlyphs" stroke="#1a1a1a" stroke-width="0.25">3%</text>
<line x1="189.3" y1="218.5" x2="197.1" y2="218.5" stroke="#3db56f" stroke-width="1.2"/>
<text x="197.8" y="220.5" font-size="5.8" text-anchor="start" font-weight="bold" fill="#1a1a1a" textLength="7" lengthAdjust="spacingAndGlyphs" stroke="#1a1a1a" stroke-width="0.25">5%</text>
</svg>
</body></html>
